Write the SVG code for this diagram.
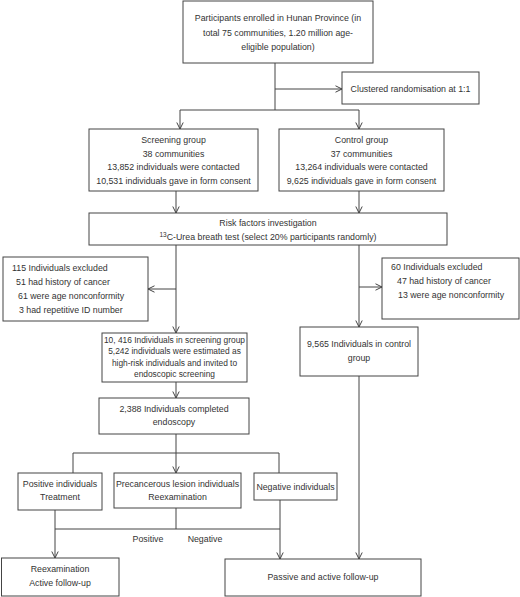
<svg xmlns="http://www.w3.org/2000/svg" width="520" height="597" viewBox="0 0 520 597">
<defs>
<marker id="arr" viewBox="0 0 8 8" refX="7.5" refY="4" markerWidth="8" markerHeight="8" markerUnits="userSpaceOnUse" orient="auto">
<path d="M1,0.8 L7.5,4 L1,7.2" fill="none" stroke="#444" stroke-width="1"/>
</marker>
<style>
.box{fill:#fff;stroke:#444;stroke-width:1}
.t{font-family:"Liberation Sans","Arial",sans-serif;font-size:8.8px;fill:#333}
.s{font-size:8.4px}
.c{text-anchor:middle}
.ln{fill:none;stroke:#444;stroke-width:1}
.ar{marker-end:url(#arr)}
</style>
</defs>
<rect width="520" height="597" fill="#fff"/>

<g id="connectors">
<path class="ln" d="M275,63 V110"/>
<path class="ln ar" d="M275,89 H342"/>
<path class="ln" d="M180,110 H359"/>
<path class="ln ar" d="M180,110 V129"/>
<path class="ln ar" d="M359,110 V129"/>
<path class="ln ar" d="M176,191 V213"/>
<path class="ln ar" d="M359,191 V213"/>
<path class="ln ar" d="M176,245 V333"/>
<path class="ln ar" d="M176,289 H148"/>
<path class="ln ar" d="M359,245 V327"/>
<path class="ln ar" d="M359,287 H382"/>
<path class="ln ar" d="M176,382 V398"/>
<path class="ln ar" d="M176,434 V473"/>
<path class="ln" d="M73,473 V453 H279 V473"/>
<path class="ln" d="M176,508 V529"/>
<path class="ln" d="M55,529 H280"/>
<path class="ln ar" d="M55,510 V558"/>
<path class="ln ar" d="M280,500 V559"/>
<path class="ln ar" d="M359,376 V559"/>
</g>

<g id="n-participants">
<rect class="box" x="183" y="1" width="190" height="62"/>
<text class="t c" x="278" y="20.5">Participants enrolled in Hunan Province (in</text>
<text class="t c" x="278" y="36">total 75 communities, 1.20 million age-</text>
<text class="t c" x="278" y="50">eligible population)</text>
</g>

<g id="n-random">
<rect class="box" x="342" y="72" width="137" height="32"/>
<text class="t c" x="410.5" y="92">Clustered randomisation at 1:1</text>
</g>

<g id="n-screening">
<rect class="box" x="89" y="129" width="169" height="62"/>
<text class="t c" x="173.5" y="143">Screening group</text>
<text class="t c" x="173.5" y="156.5">38 communities</text>
<text class="t c" x="173.5" y="170">13,852 individuals were contacted</text>
<text class="t c" x="173.5" y="184">10,531 individuals gave in form consent</text>
</g>

<g id="n-control">
<rect class="box" x="279" y="129" width="165" height="62"/>
<text class="t c" x="361.5" y="143">Control group</text>
<text class="t c" x="361.5" y="156.5">37 communities</text>
<text class="t c" x="361.5" y="170">13,264 individuals were contacted</text>
<text class="t c" x="361.5" y="184">9,625 individuals gave in form consent</text>
</g>

<g id="n-risk">
<rect class="box" x="89" y="213" width="358" height="32"/>
<text class="t c" x="268" y="226">Risk factors investigation</text>
<text class="t c" x="268" y="240"><tspan font-size="6.5" dy="-3">13</tspan><tspan dy="3">C-Urea breath test (select 20% participants randomly)</tspan></text>
</g>

<g id="n-excl-left">
<rect class="box" x="3" y="257" width="145" height="64"/>
<text class="t" x="12" y="271">115 Individuals excluded</text>
<text class="t" x="16" y="285">51 had history of cancer</text>
<text class="t" x="18" y="299">61 were age nonconformity</text>
<text class="t" x="19" y="313">3 had repetitive ID number</text>
</g>

<g id="n-excl-right">
<rect class="box" x="382" y="258" width="137" height="61"/>
<text class="t" x="391" y="270">60 Individuals excluded</text>
<text class="t" x="397" y="284">47 had history of cancer</text>
<text class="t" x="398" y="298">13 were age nonconformity</text>
</g>

<g id="n-screen-group">
<rect class="box" x="102" y="333" width="145" height="49"/>
<text class="t s c" x="174.5" y="342.5">10, 416 Individuals in screening group</text>
<text class="t s c" x="174.5" y="354">5,242 individuals were estimated as</text>
<text class="t s c" x="174.5" y="365.5">high-risk individuals and invited to</text>
<text class="t s c" x="174.5" y="377">endoscopic screening</text>
</g>

<g id="n-control-group">
<rect class="box" x="300" y="327" width="118" height="49"/>
<text class="t c" x="359" y="347">9,565 Individuals in control</text>
<text class="t c" x="359" y="361">group</text>
</g>

<g id="n-endoscopy">
<rect class="box" x="99" y="398" width="150" height="36"/>
<text class="t c" x="174" y="412">2,388 Individuals completed</text>
<text class="t c" x="174" y="425">endoscopy</text>
</g>

<g id="n-positive">
<rect class="box" x="18" y="473" width="84" height="37"/>
<text class="t c" x="60" y="487">Positive individuals</text>
<text class="t c" x="60" y="500">Treatment</text>
</g>

<g id="n-precancer">
<rect class="box" x="114" y="473" width="127" height="35"/>
<text class="t c" x="177.5" y="487">Precancerous lesion individuals</text>
<text class="t c" x="177.5" y="500">Reexamination</text>
</g>

<g id="n-negative">
<rect class="box" x="254" y="473" width="83" height="27"/>
<text class="t c" x="295.5" y="490">Negative individuals</text>
</g>

<g id="labels">
<text class="t c" x="148" y="542">Positive</text>
<text class="t c" x="205" y="542">Negative</text>
</g>

<g id="n-reexam">
<rect class="box" x="1.5" y="558" width="117.5" height="38"/>
<text class="t c" x="60" y="572">Reexamination</text>
<text class="t c" x="60" y="586">Active follow-up</text>
</g>

<g id="n-passive">
<rect class="box" x="225" y="559" width="196" height="37"/>
<text class="t c" x="323" y="580">Passive and active follow-up</text>
</g>
</svg>
